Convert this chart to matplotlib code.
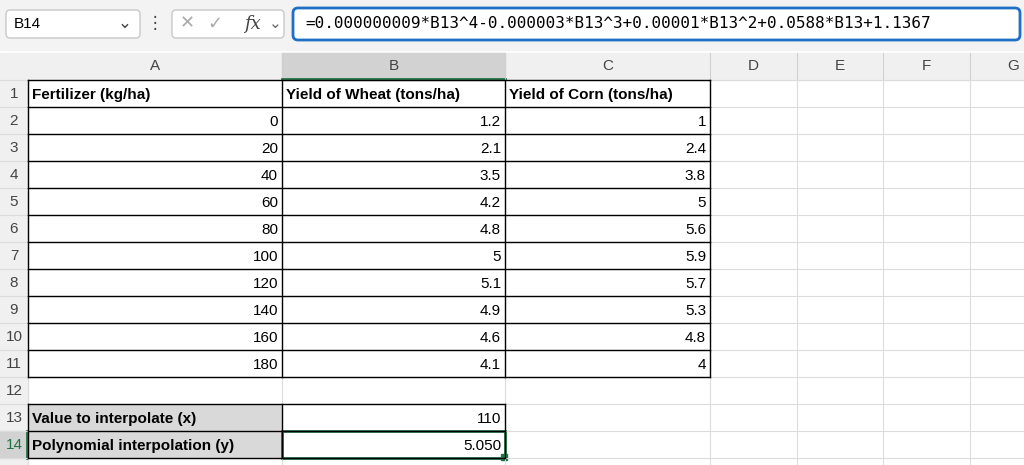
import matplotlib
matplotlib.use("Agg")
import matplotlib.pyplot as plt
from matplotlib.patches import Rectangle, FancyBboxPatch

fertilizer = [0, 20, 40, 60, 80, 100, 120, 140, 160, 180]
wheat = ["1.2", "2.1", "3.5", "4.2", "4.8", "5", "5.1", "4.9", "4.6", "4.1"]
corn = ["1", "2.4", "3.8", "5", "5.6", "5.9", "5.7", "5.3", "4.8", "4"]
headers = ["Fertilizer (kg/ha)", "Yield of Wheat (tons/ha)", "Yield of Corn (tons/ha)"]
col_letters = ["A", "B", "C", "D", "E", "F", "G"]
col_edges = [28, 282, 505, 710, 797, 883, 970, 1056]
formula = "=0.000000009*B13^4-0.000003*B13^3+0.00001*B13^2+0.0588*B13+1.1367"

W, H = 1024, 465
fig = plt.figure(figsize=(W/100, H/100), dpi=100)
ax = fig.add_axes([0, 0, 1, 1])
ax.set_xlim(0, W); ax.set_ylim(H, 0); ax.axis("off")
plt.rcParams['font.family'] = ['Liberation Sans', 'DejaVu Sans']
fs = 11

# formula bar
ax.add_patch(Rectangle((0, 0), W, 50, color="#f3f3f3"))
ax.add_patch(FancyBboxPatch((6, 10), 134, 28, boxstyle="round,pad=0,rounding_size=4", fc="white", ec="#c8c8c8"))
ax.text(14, 24, "B14", va="center", fontsize=fs)
ax.text(125, 24, "⌄", va="center", ha="center", fontsize=12, color="#444")
ax.text(155, 24, "⋮", va="center", ha="center", fontsize=12, color="#444")
ax.add_patch(FancyBboxPatch((172, 10), 112, 28, boxstyle="round,pad=0,rounding_size=4", fc="white", ec="#c8c8c8"))
ax.text(187, 24, "✕", va="center", ha="center", fontsize=13, color="#aaa")
ax.text(215, 24, "✓", va="center", ha="center", fontsize=13, color="#aaa")
ax.text(252, 24, "fx", va="center", ha="center", fontsize=13, style="italic", family="DejaVu Serif", color="#444")
ax.text(275, 24, "⌄", va="center", ha="center", fontsize=11, color="#666")
ax.add_patch(FancyBboxPatch((293, 8), 727, 32, boxstyle="round,pad=0,rounding_size=5", fc="white", ec="#1f6fc5", lw=2))
ax.text(305, 24, formula, va="center", fontsize=11.5, family="DejaVu Sans Mono")

top, rh = 53, 27
y0 = 80
ax.add_patch(Rectangle((0, top), W, y0-top, color="#f0f0f0"))
ax.add_patch(Rectangle((0, y0), 28, H-y0, color="#f0f0f0"))
for i, L in enumerate(col_letters):
    x0, x1 = col_edges[i], col_edges[i+1]
    if L == "B":
        ax.add_patch(Rectangle((x0, top), x1-x0, y0-top, color="#d2d2d2"))
        ax.plot([x0, x1], [y0-1, y0-1], color="#217346", lw=2)
    ax.text((x0+x1)/2, (top+y0)/2, L, ha="center", va="center", fontsize=fs, color="#444")
    ax.plot([x1, x1], [top, y0], color="#d0d0d0", lw=0.8)
for r in range(1, 15):
    ya = y0 + (r-1)*rh
    if r == 14:
        ax.add_patch(Rectangle((0, ya), 28, rh, color="#d2d2d2"))
        ax.plot([27, 27], [ya, ya+rh], color="#217346", lw=2)
        col = "#217346"
    else:
        col = "#444"
    ax.text(14, ya+rh/2, str(r), ha="center", va="center", fontsize=fs, color=col)
for r in range(15):
    ax.plot([0, W], [y0+r*rh]*2, color="#dcdcdc", lw=0.8)
for x in col_edges:
    ax.plot([x, x], [y0, H], color="#dcdcdc", lw=0.8)

def cell(c, r, text, align="right", bold=False, bg=None):
    x0, x1 = col_edges[c], col_edges[c+1]
    ya = y0 + (r-1)*rh
    if bg:
        ax.add_patch(Rectangle((x0, ya), x1-x0, rh, color=bg, lw=0))
    if align == "right":
        ax.text(x1-4, ya+rh/2+1, text, ha="right", va="center", fontsize=fs, weight="bold" if bold else "normal")
    else:
        ax.text(x0+4, ya+rh/2+1, text, ha="left", va="center", fontsize=fs, weight="bold" if bold else "normal")

def border(c0, c1, r0, r1):
    ys = [y0 + (r-1)*rh for r in range(r0, r1+2)]
    for yy in ys:
        ax.plot([col_edges[c0], col_edges[c1+1]], [yy, yy], color="black", lw=1, solid_capstyle="projecting")
    for c in range(c0, c1+2):
        ax.plot([col_edges[c]]*2, [ys[0], ys[-1]], color="black", lw=1, solid_capstyle="projecting")

for c, h in enumerate(headers):
    cell(c, 1, h, "left", True)
for i in range(len(fertilizer)):
    cell(0, i+2, str(fertilizer[i]))
    cell(1, i+2, wheat[i])
    cell(2, i+2, corn[i])
cell(0, 13, "Value to interpolate (x)", "left", True, "#d9d9d9")
cell(1, 13, "110")
cell(0, 14, "Polynomial interpolation (y)", "left", True, "#d9d9d9")
x = 110
y = 0.000000009*x**4 - 0.000003*x**3 + 0.00001*x**2 + 0.0588*x + 1.1367
cell(1, 14, f"{y:.3f}")
border(0, 2, 1, 11)
border(0, 1, 13, 14)
ya = y0 + 13*rh
ax.add_patch(Rectangle((col_edges[1], ya), col_edges[2]-col_edges[1], rh, fill=False, ec="#217346", lw=2))
ax.add_patch(Rectangle((col_edges[2]-4, ya+rh-4), 6, 6, color="#217346"))

fig.savefig("out.png", dpi=100)
